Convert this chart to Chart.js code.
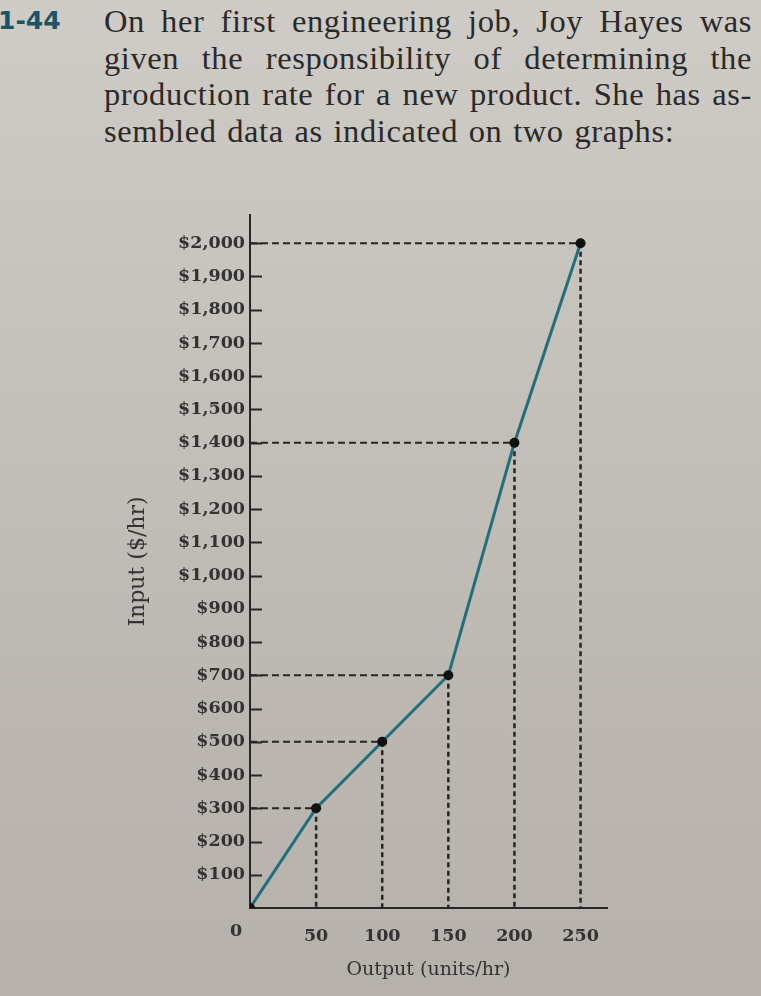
<!DOCTYPE html>
<html>
<head>
<meta charset="utf-8">
<script src="https://cdn.jsdelivr.net/npm/chart.js@4"></script>
<style>
  html, body {
    margin: 0;
    padding: 0;
  }
  body {
    width: 761px;
    height: 996px;
    overflow: hidden;
    position: relative;
    background: linear-gradient(to bottom, #cfcbc6 0%, #c5c1bb 35%, #bcb8b1 70%, #b6b2ab 100%);
  }
  #num {
    position: absolute;
    left: -2px;
    top: 6px;
    font: bold 25px "DejaVu Sans", sans-serif;
    color: #1b5468;
  }
  #para {
    position: absolute;
    left: 104px;
    top: 3px;
    width: 648px;
    font: 32.5px "Liberation Serif", serif;
    letter-spacing: 0.6px;
    line-height: 36.7px;
    color: #2a2a2a;
  }
  #para .j {
    text-align: justify;
    text-align-last: justify;
    white-space: nowrap;
  }
  #para .last {
    word-spacing: 2px;
    white-space: nowrap;
  }
  #chart {
    position: absolute;
    left: 0;
    top: 190px;
  }
</style>
</head>
<body>
<div id="num">1-44</div>
<div id="para">
  <div class="j">On her first engineering job, Joy Hayes was</div>
  <div class="j">given the responsibility of determining the</div>
  <div class="j">production rate for a new product. She has as-</div>
  <div class="last">sembled data as indicated on two graphs:</div>
</div>
<canvas id="chart" width="761" height="806"></canvas>

<script>
const outputs = [0, 50, 100, 150, 200, 250];
const inputs = [0, 300, 500, 700, 1400, 2000];
const xTicks = [0, 50, 100, 150, 200, 250];
const yTicks = [100, 200, 300, 400, 500, 600, 700, 800, 900, 1000,
  1100, 1200, 1300, 1400, 1500, 1600, 1700, 1800, 1900, 2000];

const ink = "#262626";
const labelColor = "#333";
const tickFont = { family: "DejaVu Serif", size: 17.5, weight: "bold" };

/* ------------------------------- */
/* DASHED GUIDE LINES */
/* ------------------------------- */

const guides = [];
for (let i = 1; i < outputs.length; i++) {
  // across from the y axis to the point
  guides.push({
    data: [
      { x: 0, y: inputs[i] },
      { x: outputs[i], y: inputs[i] },
    ],
    borderColor: ink,
    borderWidth: 2,
    borderDash: [7, 4],
    pointRadius: 0,
  });
  // down from the point to the x axis
  guides.push({
    data: [
      { x: outputs[i], y: inputs[i] },
      { x: outputs[i], y: 0 },
    ],
    borderColor: ink,
    borderWidth: 2.5,
    borderDash: [5, 3.5],
    pointRadius: 0,
  });
}

// tick marks on the right side of the y axis, plus the lone "0"
const axisExtras = {
  id: "axisExtras",
  afterDatasetsDraw(chart) {
    const ctx = chart.ctx;
    const y = chart.scales.y;
    const x = chart.scales.x;
    const left = chart.chartArea.left;

    ctx.save();
    ctx.strokeStyle = ink;
    ctx.lineWidth = 2;
    yTicks.forEach((v) => {
      const py = Math.round(y.getPixelForValue(v)) + 0.5;
      ctx.beginPath();
      ctx.moveTo(left, py);
      ctx.lineTo(left + 12, py);
      ctx.stroke();
    });

    ctx.fillStyle = labelColor;
    ctx.font = "bold 17.5px 'DejaVu Serif'";
    ctx.textAlign = "center";
    ctx.textBaseline = "middle";
    ctx.fillText("0", x.getPixelForValue(0) - 14, y.getPixelForValue(0) + 23);
    ctx.restore();
  },
};

new Chart(document.getElementById("chart").getContext("2d"), {
  type: "line",

  data: {
    datasets: [
      {
        data: outputs.map((v, i) => ({ x: v, y: inputs[i] })),
        borderColor: "#1f6f7c",
        borderWidth: 3,
        pointRadius: 5,
        pointBackgroundColor: "#111",
        pointBorderWidth: 0,
      },
      ...guides,
    ],
  },

  options: {
    responsive: false,
    animation: false,
    layout: {
      padding: { top: 25, right: 154, left: 125, bottom: 0 },
    },
    plugins: {
      legend: { display: false },
      tooltip: { enabled: false },
    },
    scales: {
      x: {
        type: "linear",
        min: 0,
        max: 270,
        afterBuildTicks: (s) => {
          s.ticks = xTicks.map((v) => ({ value: v }));
        },
        afterFit: (s) => {
          s.height = 88;
        },
        grid: { drawOnChartArea: false, drawTicks: false },
        border: { color: ink, width: 2 },
        ticks: {
          color: labelColor,
          font: tickFont,
          padding: 18,
          maxRotation: 0,
          callback: (v) => (v === 0 ? "" : v),
        },
        title: {
          display: true,
          text: "Output (units/hr)",
          color: labelColor,
          font: { family: "DejaVu Serif", size: 19 },
          padding: { top: 0, bottom: 15 },
        },
      },
      y: {
        type: "linear",
        min: 0,
        max: 2085,
        afterBuildTicks: (s) => {
          s.ticks = yTicks.map((v) => ({ value: v }));
        },
        afterFit: (s) => {
          s.width = 125;
        },
        grid: { drawOnChartArea: false, drawTicks: false },
        border: { color: ink, width: 2 },
        ticks: {
          color: labelColor,
          font: tickFont,
          padding: 5,
          callback: (v) => "$" + v.toLocaleString("en-US"),
        },
        title: {
          display: true,
          text: "Input ($/hr)",
          color: labelColor,
          font: { family: "DejaVu Serif", size: 22 },
          padding: { top: 0, bottom: 0 },
        },
      },
    },
  },

  plugins: [axisExtras],
});
</script>
</body>
</html>
